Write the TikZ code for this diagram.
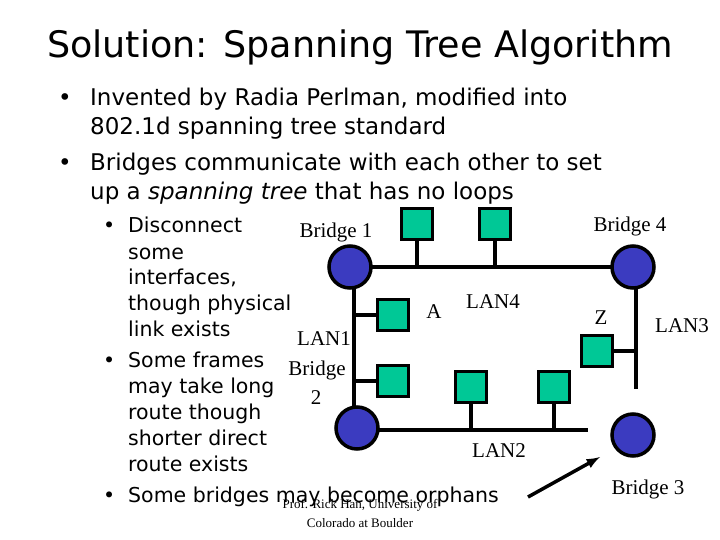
\documentclass[tikz,border=0pt]{standalone}
\usepackage{fontspec}
\setmainfont{DejaVu Sans}
\newfontfamily\tms{Liberation Serif}
\definecolor{bblue}{HTML}{3B3BC0}
\definecolor{hgreen}{HTML}{00C896}
\begin{document}
\begin{tikzpicture}[x=1pt,y=-1pt,
  br/.style={circle,draw=black,line width=3.5pt,fill=bblue,minimum size=42pt,inner sep=0pt},
  hs/.style={rectangle,draw=black,line width=3pt,fill=hgreen,minimum size=31pt,inner sep=0pt},
  ln/.style={line width=4pt},
  lb/.style={font=\tms\fontsize{21}{21}\selectfont,anchor=base},
  tx/.style={anchor=base west,inner sep=0pt,font=\fontsize{23}{23}\selectfont},
  st/.style={anchor=base west,inner sep=0pt,font=\fontsize{20.5}{20.5}\selectfont}]
\useasboundingbox (0,0) rectangle (720,540);
\node[anchor=base,font=\fontsize{36.5}{36.5}\selectfont] (title) at (360,58) {Solution: Spanning Tree Algorithm};
\node[tx] (b1) at (58,106) {•};
\node[tx] (l1) at (90,106) {Invented by Radia Perlman, modified into};
\node[tx] (l2) at (90,135) {802.1d spanning tree standard};
\node[tx] (b2) at (58,171) {•};
\node[tx] (l3) at (90,171) {Bridges communicate with each other to set};
\node[tx] (l4) at (90,200) {up a \emph{spanning tree} that has no loops};
\node[st] (s1) at (103,233) {•};
\node[st] (s1a) at (128,233) {Disconnect};
\node[st] (s1b) at (128,259) {some};
\node[st] (s1c) at (128,284) {interfaces,};
\node[st] (s1d) at (128,310) {though physical};
\node[st] (s1e) at (128,336) {link exists};
\node[st] (s2) at (103,367) {•};
\node[st] (s2a) at (128,367) {Some frames};
\node[st] (s2b) at (128,393) {may take long};
\node[st] (s2c) at (128,419) {route though};
\node[st] (s2d) at (128,445) {shorter direct};
\node[st] (s2e) at (128,471) {route exists};
\node[st] (s3) at (103,502) {•};
\node[st] (s3a) at (128,502) {Some bridges may become orphans};
% network
\coordinate (L2e) at (588,430);
\coordinate (L3e) at (636,389);
\draw[ln] (350,267) -- (633,267);
\draw[ln] (354,267) -- (354,428);
\draw[ln] (357,430) -- (L2e);
\draw[ln] (636,267) -- (L3e);
\node[br] (B1) at (350,267) {};
\node[br] (B4) at (633,267) {};
\node[br] (B2) at (357,428) {};
\node[br] (B3) at (633,435) {};
\node[hs] (h1) at (417,224) {};
\node[hs] (h2) at (495,224) {};
\node[hs] (hA) at (393,315) {};
\node[hs] (h3) at (393,381) {};
\node[hs] (h4) at (471,387) {};
\node[hs] (h5) at (554,387) {};
\node[hs] (hZ) at (597,351) {};
\draw[ln] (h1.south) -- (h1.south |- B1);
\draw[ln] (h2.south) -- (h2.south |- B1);
\draw[ln] (hA.west) -- (hA.west -| 354,0);
\draw[ln] (h3.west) -- (h3.west -| 354,0);
\draw[ln] (h4.south) -- (h4.south |- L2e);
\draw[ln] (h5.south) -- (h5.south |- L2e);
\draw[ln] (hZ.east) -- (hZ.east -| L3e);
\node[lb] (t1) at (336,237) {Bridge 1};
\node[lb] (t4) at (630,231) {Bridge 4};
\node[lb] (tA) at (434,318) {A};
\node[lb] (tL4) at (493,308) {LAN4};
\node[lb] (tZ) at (601,324) {Z};
\node[lb] (tL3) at (682,332) {LAN3};
\node[lb] (tL1) at (324,345) {LAN1};
\node[lb] (tb2) at (317,375) {Bridge};
\node[lb] (tb2n) at (316,404) {2};
\node[lb] (tL2) at (499,457) {LAN2};
\node[lb] (t3) at (648,494) {Bridge 3};
\coordinate (as) at (528,497);
\draw[line width=3.5pt,-latex] (as) -- (600,457);
\node[anchor=base,font=\tms\fontsize{13}{13}\selectfont] (f1) at (360,508) {Prof. Rick Han, University of};
\node[anchor=base,font=\tms\fontsize{13}{13}\selectfont] (f2) at (360,527) {Colorado at Boulder};
\end{tikzpicture}
\end{document}
